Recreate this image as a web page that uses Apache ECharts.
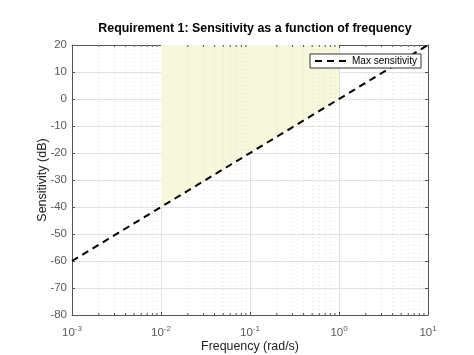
<!DOCTYPE html>
<html><head><meta charset="utf-8">
<script src="https://cdn.jsdelivr.net/npm/echarts@6/dist/echarts.min.js"></script>
<style>html,body{margin:0;padding:0;background:#fff}#c{width:474px;height:355px}</style>
</head><body><div id="c"></div>
<script>
// Data
const lineFreq = [0.001, 10];
const lineSens = [-60, 20];
const bandFreq = [0.01, 1];
const bandLow = [-40, 0];
const yTicks = [-80, -70, -60, -50, -40, -30, -20, -10, 0, 10, 20];
const xDecades = [-3, -2, -1, 0, 1];
const minorMult = [2, 3, 4, 5, 6, 7, 8, 9];

const minorX = [];
for (let d = -3; d < 1; d++) for (const m of minorMult) minorX.push(m * Math.pow(10, d));

const font = 'Liberation Sans, Arial, Helvetica, sans-serif';
const chart = echarts.init(document.getElementById('c'));
const axisCol = '#555';
const labCol = '#5a5a5a';
chart.setOption({
  animation: false,
  title: {
    text: 'Requirement 1: Sensitivity as a function of frequency',
    left: 250, textAlign: 'center', top: 18,
    textStyle: {fontFamily: font, fontSize: 12.4, fontWeight: 'bold', color: '#000'}
  },
  legend: {
    left: 310, top: 54, orient: 'vertical',
    data: ['Max sensitivity'],
    backgroundColor: '#fff', borderColor: '#333', borderWidth: 1,
    padding: [2, 4, 2, 4], itemWidth: 32, itemHeight: 10, itemGap: 4,
    itemStyle: {opacity: 0},
    textStyle: {fontFamily: font, fontSize: 10, color: '#000'}
  },
  grid: {left: 72, right: 46, top: 45, bottom: 40, containLabel: false, outerBoundsMode: 'none'},
  xAxis: [{
    type: 'log', logBase: 10, min: 0.001, max: 10,
    name: 'Frequency (rad/s)', nameLocation: 'middle', nameGap: 26, nameMoveOverlap: false,
    nameTextStyle: {fontFamily: font, fontSize: 12.4, color: '#222'},
    axisLine: {onZero: false, lineStyle: {color: axisCol}},
    axisTick: {inside: true, length: 3, lineStyle: {color: axisCol}},
    axisLabel: {
      margin: 10, fontFamily: font,
      formatter: v => '{b|10}{s|' + Math.round(Math.log10(v)) + '}',
      rich: {
        b: {fontFamily: font, fontSize: 11.5, color: labCol},
        s: {fontFamily: font, fontSize: 8, color: labCol, verticalAlign: 'bottom', padding: [0, 0, 8, 0]}
      }
    },
    splitLine: {show: true, lineStyle: {color: '#e2e2e2', width: 1}}
  }, {
    type: 'log', logBase: 10, min: 0.001, max: 10, position: 'top',
    axisLine: {onZero: false, lineStyle: {color: axisCol}},
    axisTick: {inside: true, length: 3, lineStyle: {color: axisCol}},
    axisLabel: {show: false}, splitLine: {show: false}
  }],
  yAxis: [{
    type: 'value', min: -80, max: 20, interval: 10,
    name: 'Sensitivity (dB)', nameLocation: 'middle', nameGap: 23, nameMoveOverlap: false,
    nameTextStyle: {fontFamily: font, fontSize: 12.5, color: '#222'},
    axisLine: {show: true, lineStyle: {color: axisCol}},
    axisTick: {show: true, inside: true, length: 3, lineStyle: {color: axisCol}},
    axisLabel: {margin: 5, fontFamily: font, fontSize: 11.5, color: labCol},
    splitLine: {show: true, lineStyle: {color: '#e2e2e2', width: 1}}
  }, {
    type: 'value', min: -80, max: 20, interval: 10, position: 'right',
    axisLine: {show: true, lineStyle: {color: axisCol}},
    axisTick: {show: true, inside: true, length: 3, lineStyle: {color: axisCol}},
    axisLabel: {show: false}, splitLine: {show: false}
  }],
  series: [
    {
      name: 'band', type: 'line', z: 1, symbol: 'none', silent: true,
      data: bandFreq.map((f, i) => [f, bandLow[i]]),
      lineStyle: {width: 0},
      areaStyle: {origin: 'end', color: '#f7f7dc', opacity: 1}
    },
    {
      name: 'minorGrid', type: 'custom', z: 2, silent: true,
      data: minorX.map(v => [v]),
      renderItem: (params, api) => {
        const x = api.value(0);
        const top = api.coord([x, 20]);
        const bot = api.coord([x, -80]);
        return {
          type: 'group', children: [
            {type: 'line', shape: {x1: top[0], y1: top[1], x2: bot[0], y2: bot[1]},
             style: {stroke: '#dcdcdc', lineWidth: 1, lineDash: [1, 3]}},
            {type: 'line', shape: {x1: top[0], y1: top[1], x2: top[0], y2: top[1] + 2},
             style: {stroke: axisCol, lineWidth: 1}},
            {type: 'line', shape: {x1: bot[0], y1: bot[1], x2: bot[0], y2: bot[1] - 2},
             style: {stroke: axisCol, lineWidth: 1}}
          ]
        };
      }
    },
    {
      name: 'Max sensitivity', type: 'line', z: 3, symbol: 'none',
      data: lineFreq.map((f, i) => [f, lineSens[i]]),
      lineStyle: {color: '#000', width: 2, type: [7, 5]},
      itemStyle: {color: '#000'}
    }
  ]
});
</script></body></html>
